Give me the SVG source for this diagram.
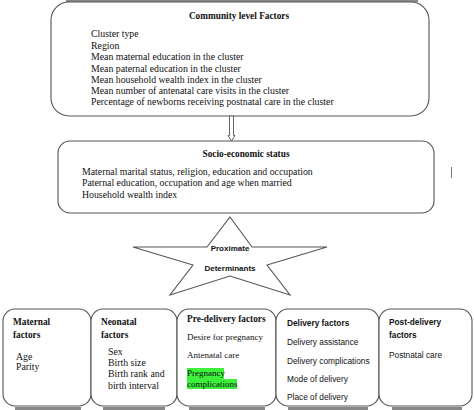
<svg xmlns="http://www.w3.org/2000/svg" width="474" height="410" viewBox="0 0 474 410">
<style>
.box{fill:#fff;stroke:#555;stroke-width:1.1}
.sh{fill:#888}
.serif{font-family:"Liberation Serif","Times New Roman",serif;fill:#111}
.sans{font-family:"Liberation Sans",Arial,sans-serif;fill:#111}
.b{font-weight:bold}
.t{font-size:9.8px}
.s{font-size:8.3px}
</style>
<rect width="474" height="410" fill="#fff"/>
<rect class="sh" x="66" y="0" width="352" height="2"/>
<g id="community">
<rect class="box" x="51" y="2" width="378" height="114" rx="18"/>
<text class="serif b" x="239" y="19" font-size="9.3" text-anchor="middle">Community level Factors</text>
<g class="serif t">
<text x="91" y="37">Cluster type</text>
<text x="91" y="49">Region</text>
<text x="91" y="60">Mean maternal education in the cluster</text>
<text x="91" y="72">Mean paternal education in the cluster</text>
<text x="91" y="83">Mean household wealth index in the cluster</text>
<text x="91" y="94">Mean number of antenatal care visits in the cluster</text>
<text x="91" y="105">Percentage of newborns receiving postnatal care in the cluster</text>
</g>
</g>
<g id="connectors">
<polygon points="229.5,116 233.5,116 233.5,135.5 235,135.5 231.5,141 228,135.5 229.5,135.5" fill="#fff" stroke="#555" stroke-width="0.9"/>
</g>
<g id="socio">
<rect class="box" x="58" y="141" width="376" height="72" rx="12"/>
<text class="serif b" x="246" y="157" font-size="9.3" text-anchor="middle">Socio-economic status</text>
<g class="serif t">
<text x="82" y="175">Maternal marital status, religion, education and occupation</text>
<text x="82" y="186">Paternal education, occupation and age when married</text>
<text x="82" y="198">Household wealth index</text>
</g>
</g>
<line x1="451.5" y1="167" x2="451.5" y2="178" stroke="#555" stroke-width="0.8"/>
<g id="proximate">
<polygon class="box" points="230,217 252,247 327,247 267,265 290,295 230,276 170,295 193,265 133,247 207,247"/>
<text class="sans b" x="230" y="250.5" font-size="8" text-anchor="middle">Proximate</text>
<text class="sans b" x="230" y="270.5" font-size="8" text-anchor="middle">Determinants</text>
</g>
<g class="sh">
<rect x="15" y="407" width="66" height="3"/>
<rect x="103" y="407" width="62" height="3"/>
<rect x="189" y="407" width="76" height="3"/>
<rect x="288" y="407" width="80" height="3"/>
<rect x="392" y="407" width="70" height="3"/>
</g>
<g id="maternal">
<rect class="box" x="3" y="309" width="88" height="97" rx="12"/>
<text class="serif b" x="13" y="325" font-size="9.3">Maternal</text>
<text class="serif b" x="13" y="338" font-size="9.3">factors</text>
<text class="serif t" x="16" y="360">Age</text>
<text class="serif t" x="16" y="370">Parity</text>
</g>
<g id="neonatal">
<rect class="box" x="91" y="309" width="86" height="97" rx="12"/>
<text class="serif b" x="101" y="325" font-size="9.3">Neonatal</text>
<text class="serif b" x="101" y="338" font-size="9.3">factors</text>
<text class="serif t" x="108" y="355">Sex</text>
<text class="serif t" x="108" y="366">Birth size</text>
<text class="serif t" x="108" y="377">Birth rank and</text>
<text class="serif t" x="108" y="389">birth interval</text>
</g>
<g id="predelivery">
<rect class="box" x="177" y="309" width="99" height="97" rx="12"/>
<text class="serif b" x="187" y="322" font-size="9.3">Pre-delivery factors</text>
<text class="serif" x="187" y="340" font-size="9">Desire for pregnancy</text>
<text class="serif" x="187" y="358" font-size="9">Antenatal care</text>
<rect x="187" y="368" width="37" height="11" fill="#3cf03c"/>
<rect x="187" y="379" width="50" height="10" fill="#3cf03c"/>
<text class="serif" x="187" y="376" font-size="9">Pregnancy</text>
<text class="serif" x="187" y="386.5" font-size="9">complications</text>
</g>
<g id="delivery">
<rect class="box" x="276" y="309" width="103" height="97" rx="12"/>
<text class="sans b s" x="287" y="326">Delivery factors</text>
<text class="sans s" x="287" y="345">Delivery assistance</text>
<text class="sans s" x="287" y="364">Delivery complications</text>
<text class="sans s" x="287" y="382">Mode of delivery</text>
<text class="sans s" x="287" y="400">Place of delivery</text>
</g>
<g id="postdelivery">
<rect class="box" x="379" y="309" width="93" height="97" rx="12"/>
<text class="sans b s" x="389" y="325">Post-delivery</text>
<text class="sans b s" x="389" y="338">factors</text>
<text class="sans s" x="389" y="358">Postnatal care</text>
</g>
</svg>
